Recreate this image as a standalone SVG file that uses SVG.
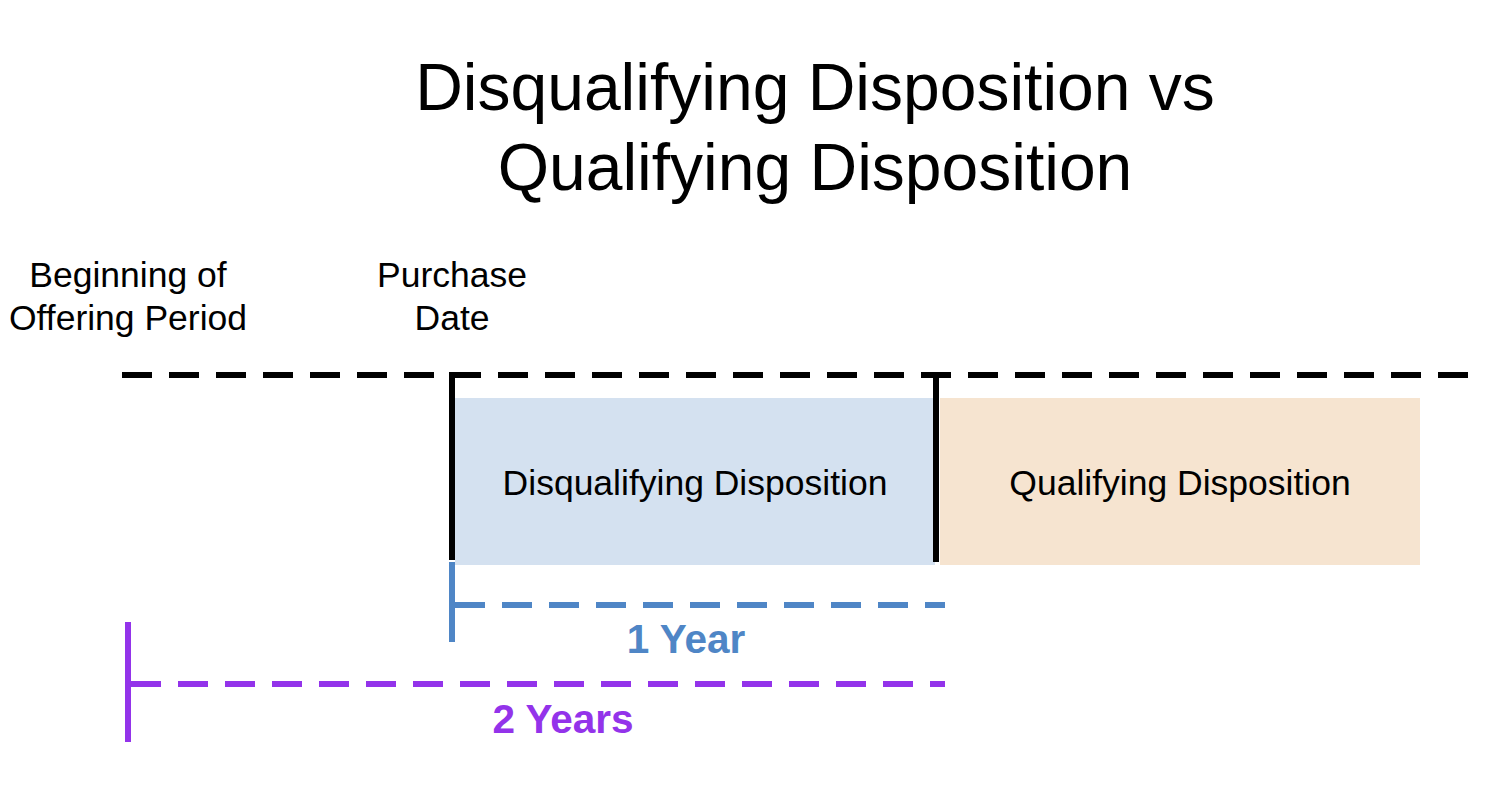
<svg xmlns="http://www.w3.org/2000/svg" width="1500" height="785" viewBox="0 0 1500 785">
<style>
text{font-family:"Liberation Sans",Arial,sans-serif;text-anchor:middle;fill:#000}
.t{font-size:66px}.l{font-size:35.5px}
.b{font-size:40.5px;font-weight:bold}
.d{stroke-width:6;fill:none;stroke-dasharray:30 17}
</style>
<rect width="1500" height="785" fill="#fff"/>
<g id="title"><text class="t" x="815" y="110">Disqualifying Disposition vs</text><text class="t" x="815" y="190">Qualifying Disposition</text></g>
<g id="beginning"><text class="l" x="128" y="287">Beginning of</text><text class="l" x="128" y="330">Offering Period</text></g>
<g id="purchase"><text class="l" x="452" y="287">Purchase</text><text class="l" x="452" y="330">Date</text></g>
<g id="disq"><rect x="455" y="398" width="480" height="167" fill="#d4e1f0"/><text class="l" x="695" y="495">Disqualifying Disposition</text></g>
<g id="qual"><rect x="940" y="398" width="480" height="167" fill="#f6e4d0"/><text class="l" x="1180" y="495">Qualifying Disposition</text></g>
<g id="connectors">
<line class="d" x1="122" y1="375" x2="1480" y2="375" stroke="#000"/>
<line x1="452" y1="372" x2="452" y2="560" stroke="#000" stroke-width="6"/>
<line x1="936" y1="372" x2="936" y2="562" stroke="#000" stroke-width="6"/>
<line x1="452" y1="562" x2="452" y2="642" stroke="#4f86c6" stroke-width="6"/>
<line class="d" x1="455" y1="605" x2="945" y2="605" stroke="#4f86c6"/>
<line x1="128" y1="622" x2="128" y2="742" stroke="#9333ea" stroke-width="6"/>
<line class="d" x1="131" y1="684" x2="945" y2="684" stroke="#9333ea"/>
</g>
<g id="oneyear"><text class="b" x="686" y="653" style="fill:#4f86c6">1 Year</text></g>
<g id="twoyears"><text class="b" x="563" y="733" style="fill:#9333ea">2 Years</text></g>
</svg>
